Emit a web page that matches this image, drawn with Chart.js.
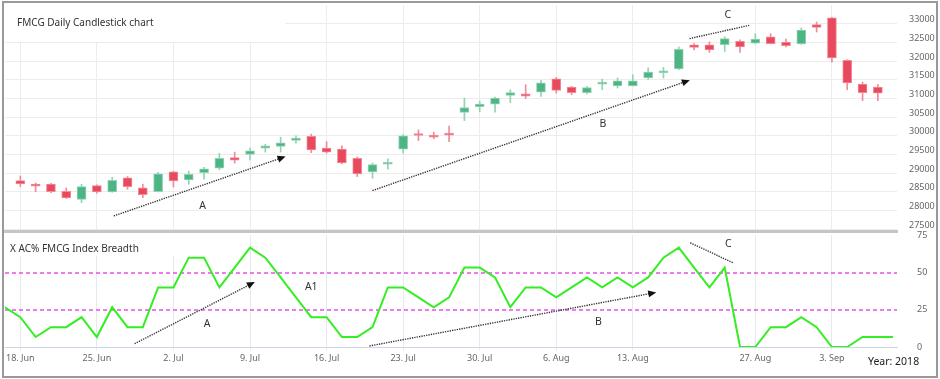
<!DOCTYPE html>
<html lang="en">
<head>
  <meta charset="UTF-8" />
  <title>FMCG Daily Candlestick chart</title>
  <script src="https://cdn.jsdelivr.net/npm/chart.js@4"></script>
  <style>
    html, body { margin: 0; padding: 0; background: #fff; }
    #frame { position: relative; width: 940px; height: 379px; overflow: hidden; }
    #border { position: absolute; left: 2px; top: 1px; width: 932px; height: 373px; border: 2px solid #999; }
    #top { position: absolute; left: 0; top: 0; }
    #bottom { position: absolute; left: 0; top: 222px; }
    #sep { position: absolute; left: 4px; top: 230px; width: 894px; height: 3px; background: #c6c6c6; }
  </style>
</head>
<body>
<div id="frame">
  <div id="border"></div>
  <canvas id="top" width="940" height="232"></canvas>
  <canvas id="bottom" width="940" height="157"></canvas>
  <div id="sep"></div>
</div>

<script>
  // trading days (ordinal axis, holidays skipped)
  const days = [
    '15. Jun',
    '18. Jun', '19. Jun', '20. Jun', '21. Jun', '22. Jun',
    '25. Jun', '26. Jun', '27. Jun', '28. Jun', '29. Jun',
    '2. Jul', '3. Jul', '4. Jul', '5. Jul', '6. Jul',
    '9. Jul', '10. Jul', '11. Jul', '12. Jul', '13. Jul',
    '16. Jul', '17. Jul', '18. Jul', '19. Jul', '20. Jul',
    '23. Jul', '24. Jul', '25. Jul', '26. Jul', '27. Jul',
    '30. Jul', '31. Jul', '1. Aug', '2. Aug', '3. Aug',
    '6. Aug', '7. Aug', '8. Aug', '9. Aug', '10. Aug',
    '13. Aug', '14. Aug', '16. Aug', '17. Aug',
    '20. Aug', '21. Aug', '23. Aug', '24. Aug',
    '27. Aug', '28. Aug', '29. Aug', '30. Aug', '31. Aug',
    '3. Sep', '4. Sep', '5. Sep', '6. Sep', '7. Sep'
  ];
  const tickDays = ['18. Jun', '25. Jun', '2. Jul', '9. Jul', '16. Jul', '23. Jul',
                    '30. Jul', '6. Aug', '13. Aug', '27. Aug', '3. Sep'];

  const opens = [null,
    28795, 28700, 28700, 28510, 28295, 28660, 28495, 28870, 28600, 28500,
    29030, 28815, 29010, 29130, 29415, 29495, 29665, 29710, 29870, 29985,
    29665, 29640, 29395, 29030, 29235, 29640, 30040, 29995, 30050, 30620,
    30775, 30845, 31075, 31120, 31165, 31525, 31300, 31150, 31380, 31330,
    31335, 31545, 31685, 31785, 32435, 32435, 32435, 32525, 32480, 32650,
    32510, 32455, 32975, 33155, 32015, 31380, 31300, null];
  const highs = [null,
    28920, 28735, 28725, 28600, 28700, 28680, 28885, 28905, 28700, 29020,
    29050, 29050, 29155, 29530, 29560, 29665, 29770, 29960, 29995, 30040,
    29840, 29725, 29430, 29270, 29380, 30030, 30155, 30095, 30255, 31005,
    30925, 31035, 31230, 31365, 31480, 31560, 31320, 31320, 31515, 31545,
    31630, 31820, 31830, 32375, 32465, 32515, 32650, 32570, 32730, 32730,
    32590, 32885, 33045, 33170, 32035, 31435, 31370, null];
  const lows = [null,
    28635, 28500, 28475, 28315, 28205, 28460, 28485, 28565, 28340, 28495,
    28625, 28700, 28835, 29085, 29265, 29350, 29560, 29560, 29800, 29545,
    29530, 29250, 28905, 28860, 29100, 29530, 29870, 29915, 29840, 30405,
    30640, 30630, 30880, 30995, 31050, 31140, 31095, 31115, 31230, 31275,
    31330, 31505, 31545, 31765, 32300, 32230, 32255, 32230, 32465, 32455,
    32375, 32445, 32775, 31970, 31230, 30940, 30940, null];
  const closes = [null,
    28705, 28645, 28500, 28330, 28635, 28495, 28805, 28635, 28420, 28975,
    28790, 28965, 29110, 29395, 29345, 29595, 29725, 29805, 29935, 29620,
    29560, 29270, 28975, 29225, 29270, 29995, 30005, 29960, 30015, 30755,
    30845, 31005, 31155, 31060, 31415, 31210, 31150, 31290, 31425, 31470,
    31470, 31705, 31710, 32310, 32365, 32300, 32600, 32375, 32590, 32465,
    32410, 32830, 32900, 32080, 31410, 31155, 31140, null];

  // % of FMCG index stocks above their average
  const breadth = [
    26.7, 20, 6.7, 13.3, 13.3, 20, 6.7, 26.7, 13.3, 13.3,
    40, 40, 60, 60, 40, 53.3, 66.7, 60, 46.7, 33.3,
    20, 20, 6.7, 6.7, 13.3, 40, 40, 33.3, 26.7, 33.3,
    53.3, 53.3, 46.7, 26.7, 40, 40, 33.3, 40, 46.7, 40,
    46.7, 40, 46.7, 60, 66.7, 53.3, 40, 53.3, 0, 0,
    13.3, 13.3, 20, 13.3, 0, 0, 6.7, 6.7, 6.7];
  const levels = [25, 50];

  const green = '#4db584', greenLight = '#93d3b4';
  const red = '#e9495d', redLight = '#f08c98';
  const tickIdx = tickDays.map(d => days.indexOf(d));
  const candleIdx = days.map((d, i) => i).filter(i => opens[i] !== null);
  const isUp = i => closes[i] >= opens[i];

  Chart.defaults.font.family = "'Noto Sans', sans-serif";
  Chart.defaults.color = '#666';

  // dotted trend arrows and letters, drawn in data coordinates
  const notes = {
    id: 'notes',
    afterDraw(chart, args, opts) {
      const { ctx, scales: { x, y } } = chart;
      ctx.save();
      opts.lines.forEach(l => {
        const x0 = x.getPixelForValue(l.from[0]), y0 = y.getPixelForValue(l.from[1]);
        const x1 = x.getPixelForValue(l.to[0]), y1 = y.getPixelForValue(l.to[1]);
        ctx.strokeStyle = '#333';
        ctx.lineWidth = 1.4;
        ctx.setLineDash([1.3, 1.1]);
        ctx.beginPath();
        ctx.moveTo(x0, y0);
        ctx.lineTo(x1, y1);
        ctx.stroke();
        if (l.arrow) {
          ctx.save();
          ctx.setLineDash([]);
          ctx.fillStyle = '#111';
          ctx.translate(x1, y1);
          ctx.rotate(Math.atan2(y1 - y0, x1 - x0));
          ctx.beginPath();
          ctx.moveTo(2, 0);
          ctx.lineTo(-6, -3.5);
          ctx.lineTo(-6, 3.5);
          ctx.closePath();
          ctx.fill();
          ctx.restore();
        }
      });
      ctx.fillStyle = '#333';
      ctx.font = "10.5px 'Noto Sans'";
      ctx.textAlign = 'center';
      ctx.textBaseline = 'middle';
      opts.letters.forEach(t => {
        ctx.fillText(t[0], x.getPixelForValue(t[1]), y.getPixelForValue(t[2]));
      });
      if (opts.year) {
        ctx.fillStyle = '#222';
        ctx.textAlign = 'left';
        ctx.fillText(opts.year, 868, opts.yearY);
      }
      ctx.restore();
    }
  };

  // panel title on a white box + horizontal reference levels
  const panel = {
    id: 'panel',
    beforeDatasetsDraw(chart, args, o) {
      const { ctx, chartArea, scales: { y } } = chart;
      ctx.save();
      (o.levels || []).forEach(v => {
        const py = Math.round(y.getPixelForValue(v));
        ctx.strokeStyle = '#ea4fea';
        ctx.lineWidth = 1.3;
        ctx.setLineDash([4, 3]);
        ctx.beginPath();
        ctx.moveTo(chartArea.left, py);
        ctx.lineTo(chartArea.right, py);
        ctx.stroke();
      });
      ctx.setLineDash([]);
      ctx.fillStyle = '#fff';
      ctx.fillRect(o.box[0], o.box[1], o.box[2], o.box[3]);
      ctx.fillStyle = '#333';
      ctx.font = "10px 'Noto Sans'";
      ctx.textBaseline = 'middle';
      ctx.fillText(o.text, o.x, o.y);
      ctx.restore();
    }
  };

  const xAxis = (showLabels) => ({
    type: 'linear',
    min: 0,
    max: 58.25,
    bounds: 'data',
    offset: false,
    afterBuildTicks: s => { s.ticks = tickIdx.map(v => ({ value: v })); },
    afterFit: s => { s.height = showLabels ? 32 : 0; s.paddingLeft = 0; s.paddingRight = 0; },
    grid: { color: showLabels ? '#e6e9ef' : '#ececec', offset: false, drawTicks: showLabels, tickLength: 3 },
    border: { display: showLabels, color: '#ccd6eb' },
    ticks: {
      display: showLabels,
      padding: 3,
      maxRotation: 0,
      autoSkip: false,
      font: { size: 9 },
      callback: v => days[v]
    }
  });

  new Chart(document.getElementById('top'), {
    type: 'bar',
    data: {
      datasets: [
        {
          data: candleIdx.map(i => ({ x: i, y: [lows[i], highs[i]] })),
          backgroundColor: c => isUp(c.raw.x) ? greenLight : redLight,
          barThickness: 1,
          grouped: false,
          order: 2
        },
        {
          data: candleIdx.map(i => ({ x: i, y: [opens[i], closes[i]] })),
          backgroundColor: c => isUp(c.raw.x) ? green : red,
          borderColor: c => isUp(c.raw.x) ? greenLight : redLight,
          borderWidth: 1,
          borderSkipped: false,
          barThickness: 9,
          minBarLength: 2,
          grouped: false,
          order: 1
        }
      ]
    },
    options: {
      responsive: false,
      animation: false,
      layout: { padding: { left: 5, top: 5, right: 0, bottom: 3 } },
      plugins: {
        legend: { display: false },
        tooltip: { enabled: false },
        panel: { text: 'FMCG Daily Candlestick chart', x: 17, y: 23, box: [5, 5, 280, 37] },
        notes: {
          lines: [
            { from: [7.1, 27850], to: [18.2, 29425], arrow: true },
            { from: [24.0, 28530], to: [44.6, 31470], arrow: true },
            { from: [44.7, 32600], to: [48.6, 32955], arrow: false }
          ],
          letters: [['A', 12.9, 28120], ['B', 39.05, 30320], ['C', 47.2, 33225]]
        }
      },
      scales: {
        x: xAxis(false),
        y: {
          position: 'right',
          min: 27500,
          max: 33500,
          afterFit: s => { s.width = 43; s.paddingTop = 0; s.paddingBottom = 0; },
          grid: { color: '#ececec', drawTicks: false },
          border: { display: false },
          ticks: {
            stepSize: 500,
            padding: 12,
            font: { size: 9, lineHeight: 0.85 },
            callback: v => v === 33500 ? null : [String(v), '']
          }
        }
      }
    },
    plugins: [panel, notes]
  });

  new Chart(document.getElementById('bottom'), {
    type: 'line',
    data: {
      datasets: [{
        data: breadth.map((v, i) => ({ x: i, y: v })),
        borderColor: '#33ee22',
        borderWidth: 2,
        pointRadius: 0,
        tension: 0
      }]
    },
    options: {
      responsive: false,
      animation: false,
      layout: { padding: { left: 5, top: 13.3, right: 0, bottom: 0 } },
      plugins: {
        legend: { display: false },
        tooltip: { enabled: false },
        panel: { text: 'X AC% FMCG Index Breadth', x: 10, y: 27, box: [5, 13, 235, 21], levels: levels },
        notes: {
          lines: [
            { from: [8.46, 2.2], to: [16.2, 43], arrow: true },
            { from: [23.8, 0.7], to: [42.4, 36.4], arrow: true },
            { from: [44.75, 70], to: [47.55, 56.5], arrow: false }
          ],
          letters: [['A', 13.2, 15.6], ['A1', 20.0, 40.2], ['B', 38.75, 16.9], ['C', 47.24, 69.2]],
          year: 'Year: 2018',
          yearY: 140
        }
      },
      scales: {
        x: xAxis(true),
        y: {
          position: 'right',
          min: 0,
          max: 75,
          afterFit: s => { s.width = 43; s.paddingTop = 0; s.paddingBottom = 0; },
          grid: { display: false },
          border: { display: false },
          ticks: { stepSize: 25, padding: 12, font: { size: 9 } }
        }
      }
    },
    plugins: [panel, notes]
  });
</script>
</body>
</html>
